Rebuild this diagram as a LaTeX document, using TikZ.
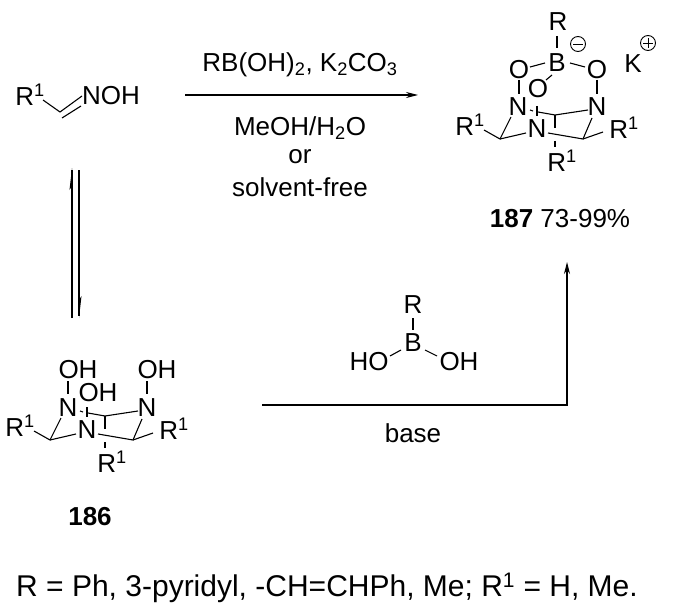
\documentclass[tikz,border=0pt]{standalone}
\usepackage{fontspec}
\setmainfont{Liberation Sans}
\usetikzlibrary{arrows.meta}
\tikzset{lbl/.style={inner sep=0pt,font=\fontsize{26}{30}\selectfont},
 bond/.style={line width=1.1pt},
 arr/.style={line width=1.1pt,-{Stealth[length=12pt,width=6pt]}}}
\newcommand\sone{\textsuperscript{1}}
\newcommand\mycage[1]{%
 \node[lbl] (#1Nl) at (518,107) {N};
 \node[lbl] (#1Nr) at (597,107) {N};
 \node[lbl] (#1Nm) at (537,129) {N};
 \node[lbl] (#1Ra) at (470,125) {R\sone};
 \node[lbl] (#1Rb) at (624,128) {R\sone};
 \node[lbl] (#1Rc) at (562,161) {R\sone};
 \coordinate (#1Cl) at (500,139);
 \coordinate (#1Cr) at (583,139);
 \coordinate (#1Cc) at (555,115);
 \draw[bond] (484,130) -- (#1Cl) -- (511,117);
 \draw[bond] (#1Cl) -- (526,133);
 \draw[bond] (548,133) -- (#1Cr) -- (592,118);
 \draw[bond] (#1Cr) -- (603,132);
 \draw[bond] (#1Cc) -- (588,110);
 \draw[bond] (530,110) -- (533,111);
 \draw[bond] (538,112) -- (#1Cc);
 \draw[bond] (537,106) -- (537,116);
 \draw[bond] (#1Cc) -- (555,128);
 \draw[bond] (555,141) -- (555,147);
}
\begin{document}
\begin{tikzpicture}[x=1pt,y=-1pt]
\useasboundingbox (0,0) rectangle (677,607);
% oxime
\node[lbl,anchor=east] (r1) at (45,95) {R\sone};
\node[lbl,anchor=west] (noh) at (82,96) {NOH};
\coordinate (cox) at (60,112);
\draw[bond] (43,100) -- (cox) -- (noh.west);
\draw[bond] (62,118) -- (81,106);
% equilibrium
\draw[line width=1.1pt] (72,318) -- (72,170);
\fill (72,168) -- (69.5,190) -- (72,186) -- cycle;
\draw[line width=1.1pt] (79,170) -- (79,316);
\fill (79,318) -- (81.5,296) -- (79,300) -- cycle;
% top arrow
\coordinate (a1) at (185,95);
\coordinate (a2) at (418,95);
\draw[arr] (a1) -- (a2);
\node[lbl] (c1) at (300,65) {RB(OH)\textsubscript{2}, K\textsubscript{2}CO\textsubscript{3}};
\node[lbl] (c2) at (300,128) {MeOH/H\textsubscript{2}O};
\node[lbl] (c3) at (300,157) {or};
\node[lbl] (c4) at (300,187) {solvent-free};
% product 187
\mycage{p}
\node[lbl] (pR) at (558,22) {R};
\node[lbl] (pB) at (557,63) {B};
\node[lbl] (pOl) at (519,70) {O};
\node[lbl] (pOr) at (597,70) {O};
\node[lbl] (pOm) at (538,89) {O};
\draw[bond] (557,36) -- (557,48);
\draw[bond] (530,67) -- (545,63);
\draw[bond] (570,63) -- (585,67);
\draw[bond] (552,75) -- (546,80);
\draw[bond] (519,80) -- (519,94);
\draw[bond] (597,80) -- (597,94);
\node[circle,draw,line width=0.9pt,minimum size=15pt,inner sep=0pt] (minus) at (578,44) {};
\draw[line width=0.9pt] (573,44) -- (583,44);
\node[lbl] (K) at (633,64) {K};
\node[circle,draw,line width=0.9pt,minimum size=15pt,inner sep=0pt] (plus) at (648,43) {};
\draw[line width=0.9pt] (643,43) -- (653,43) (648,38) -- (648,48);
\node[lbl] (l187) at (560,219) {\textbf{187} 73-99\%};
% 186
\begin{scope}[shift={(-450,301)}]
\mycage{s}
\end{scope}
\node[lbl] (sOl) at (78,370) {OH};
\node[lbl] (sOm) at (98,393) {OH};
\node[lbl] (sOr) at (157,370) {OH};
\draw[bond] (68,381) -- (68,394);
\draw[bond] (147,381) -- (147,394);
\node[lbl] (l186) at (90,517) {\textbf{186}};
% boronic acid
\node[lbl] (bR) at (413,305) {R};
\node[lbl] (bB) at (413,343) {B};
\node[lbl] (bHO) at (369,362) {HO};
\node[lbl] (bOH) at (459,362) {OH};
\draw[bond] (413,318) -- (413,330);
\draw[bond] (401,350) -- (390,356);
\draw[bond] (425,350) -- (437,356);
\node[lbl] (base) at (413,433) {base};
% lower arrow
\coordinate (b1) at (262,405);
\coordinate (b2) at (567,405);
\coordinate (b3) at (567,262);
\draw[arr] (b1) -- (b2) -- (b3);
% footnote
\node[lbl,anchor=west,font=\fontsize{30}{34}\selectfont] (note) at (16,588) {R = Ph, 3-pyridyl, -CH=CHPh, Me; R\sone{} = H, Me.};
\end{tikzpicture}
\end{document}
